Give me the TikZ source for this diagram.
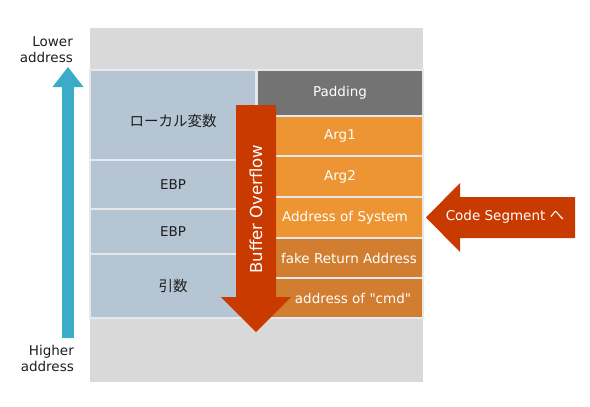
\documentclass[tikz,border=0pt]{standalone}
\usepackage{fontspec}
\setmainfont{DejaVu Sans}
\newfontfamily\jpfont{Noto Sans CJK JP}
\usepackage{tikz}
\usetikzlibrary{arrows.meta, positioning}
\usepackage{xcolor}

\definecolor{stackgray}{HTML}{D9D9D9}
\definecolor{stackblue}{HTML}{B5C5D4}
\definecolor{sepline}{HTML}{E6E8EA}
\definecolor{padgray}{HTML}{737373}
\definecolor{argorange}{HTML}{ED9533}
\definecolor{retorange}{HTML}{D17E31}
\definecolor{overred}{HTML}{C93A00}
\definecolor{upteal}{HTML}{3AACC7}
\definecolor{textdark}{HTML}{1E1E1E}

\newcommand{\jptext}[1]{{\jpfont\fontsize{14.5}{16}\selectfont #1}}

\begin{document}
\begin{tikzpicture}[x=1pt, y=-1pt,
    basefont/.style={font=\fontsize{13.5}{16}\selectfont},
    cell/.style={draw=sepline, line width=1.2pt, minimum width=166pt, inner sep=0pt, basefont},
    lcell/.style={cell, fill=stackblue, text=textdark},
    rcell/.style={cell, text=white},
    addr/.style={basefont, text=textdark, align=right, inner sep=0pt, anchor=east}]
    \useasboundingbox (0,0) rectangle (590,407);

    % stack area
    \fill[stackgray] (90,28) rectangle (423,382);

    % original frame
    \node[lcell, minimum height=90pt, label={[basefont, text=textdark, yshift=-6pt]center:\jptext{ローカル変数}}] (local) at (173,115) {};
    \node[lcell, minimum height=49pt] (ebpa) at (173,184.5) {EBP};
    \node[lcell, minimum height=45pt] (ebpb) at (173,231.5) {EBP};
    \node[lcell, minimum height=64pt] (args) at (173,286) {\jptext{引数}};

    % overwritten contents
    \node[rcell, fill=padgray, minimum height=46pt]   (padding) at (340,93)    {Padding};
    \node[rcell, fill=argorange, minimum height=40pt] (argone)  at (340,136)   {Arg1};
    \node[rcell, fill=argorange, minimum height=41pt] (argtwo)  at (340,176.5) {Arg2};
    \node[rcell, fill=argorange, minimum height=41pt,
          label={[basefont, text=white, xshift=5pt]center:Address of System}] (sysaddr) at (340,217.5) {};
    \node[rcell, fill=retorange, minimum height=40pt,
          label={[basefont, text=white, xshift=9pt]center:fake Return Address}] (fakeret) at (340,258) {};
    \node[rcell, fill=retorange, minimum height=40pt,
          label={[basefont, text=white, xshift=13pt]center:address of \textquotedbl cmd\textquotedbl}] (cmdaddr) at (340,298) {};

    % buffer overflow arrow
    \fill[overred] (236,105) -- (276,105) -- (276,297) -- (291,297) -- (256,332)
                   -- (221,297) -- (236,297) -- cycle;
    \node[rotate=90, text=white, inner sep=0pt, font=\fontsize{16.5}{18}\selectfont] (overflow) at (256,209) {Buffer Overflow};

    % jump target arrow
    \fill[overred] (575,197) -- (460,197) -- (460,183) -- (426,217.5) -- (460,252)
                   -- (460,238) -- (575,238) -- cycle;
    \node[basefont, text=white, inner sep=0pt] (codeseg) at (505,217) {Code Segment \jptext{へ}};

    % address direction
    \node[addr] (lower)  at (73,50)  {Lower\\address};
    \node[addr] (higher) at (74,358) {Higher\\address};
    \coordinate (uptip)  at (68,67);
    \coordinate (uptail) at (68,338);
    \draw[upteal, line width=12pt, -{Triangle[length=20pt, width=31pt, line width=0pt]}] (uptail) -- (uptip);
\end{tikzpicture}
\end{document}
